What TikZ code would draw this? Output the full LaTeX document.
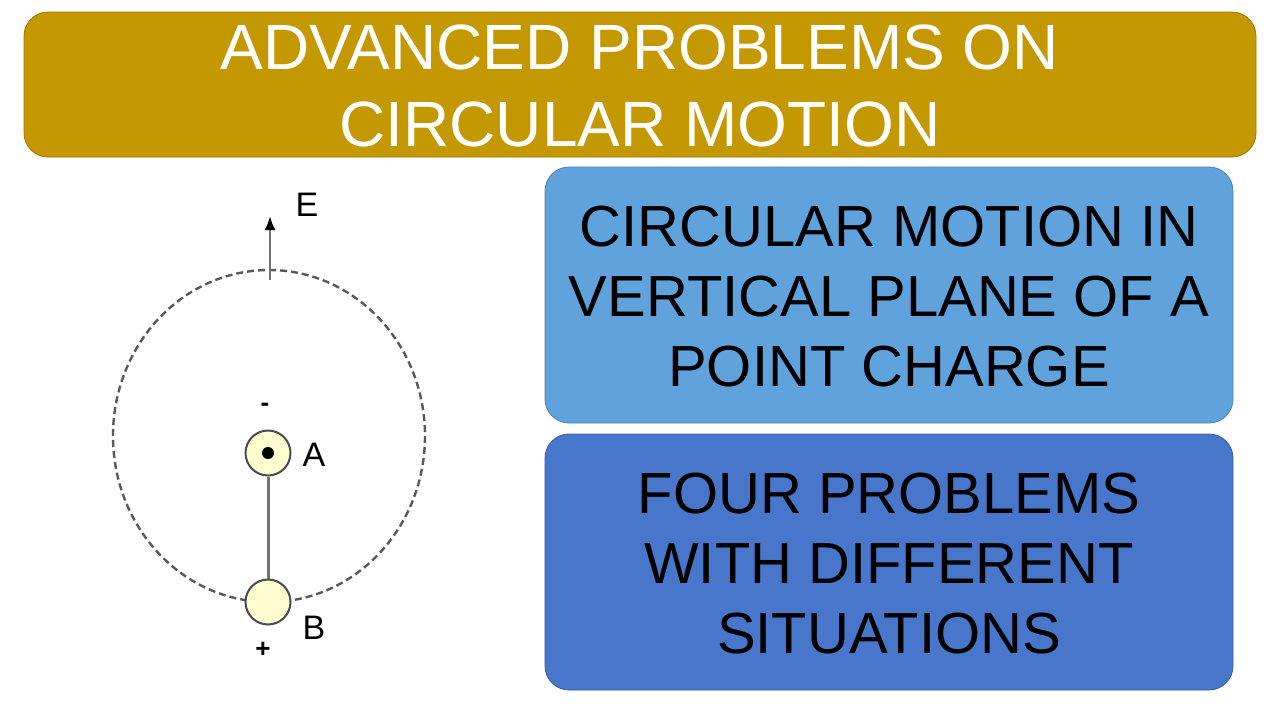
\documentclass[tikz,border=0pt]{standalone}
\usepackage{fontspec}
\setmainfont{Liberation Sans}
\usetikzlibrary{arrows.meta}
\definecolor{gold}{HTML}{C49800}
\definecolor{lblue}{HTML}{60A2DC}
\definecolor{dblue}{HTML}{4876CA}
\definecolor{ball}{HTML}{FFFDD0}
\begin{document}
\begin{tikzpicture}[x=1pt,y=-1pt,
  box/.style={rounded corners=24pt,draw=#1!80!black,fill=#1,line width=0.8pt},
  big/.style={font=\fontsize{64}{77}\selectfont,align=center},
  mid/.style={font=\fontsize{58}{70}\selectfont,align=center},
  charge/.style={circle,draw=black!70,line width=2pt,fill=ball,minimum size=45pt,inner sep=0pt},
  lbl/.style={font=\fontsize{34}{36}\selectfont}]
\useasboundingbox (0,0) rectangle (1280,720);
\fill[white] (0,0) rectangle (1280,720);
\draw[box=gold] (24,12) rectangle (1256,157);
\node[big,text=white] (title) at (640,86) {ADVANCED PROBLEMS ON\\CIRCULAR MOTION};
\draw[box=lblue] (545,167) rectangle (1233,423);
\node[mid,text=black] (t1) at (889,297) {CIRCULAR MOTION IN\\VERTICAL PLANE OF A\\POINT CHARGE};
\draw[box=dblue] (545,434) rectangle (1233,690);
\node[mid,text=black] (t2) at (889,564) {FOUR PROBLEMS\\WITH DIFFERENT\\SITUATIONS};
% diagram
\draw[black!65,line width=2.4pt,dash pattern=on 7pt off 4pt] (269,436) ellipse [x radius=156,y radius=166];
\coordinate (a0) at (270,280);
\coordinate (a1) at (270,216);
\draw[black!55,line width=2.4pt,-{Latex[length=14pt,width=11pt,black]}] (a0) -- (a1);
\node[charge] (A) at (268,453) {};
\node[charge] (B) at (268,602) {};
\draw[black!55,line width=3pt] (A) -- (B);
\fill (A) circle (6);
\node[lbl] (E) at (307,205) {E};
\node[lbl] (lA) at (314,455) {A};
\node[lbl] (lB) at (314,628) {B};
\node[font=\fontsize{26}{28}\selectfont\bfseries] (m) at (265,407) {-};
\node[font=\fontsize{26}{28}\selectfont\bfseries] (p) at (263,650) {+};
\end{tikzpicture}
\end{document}
